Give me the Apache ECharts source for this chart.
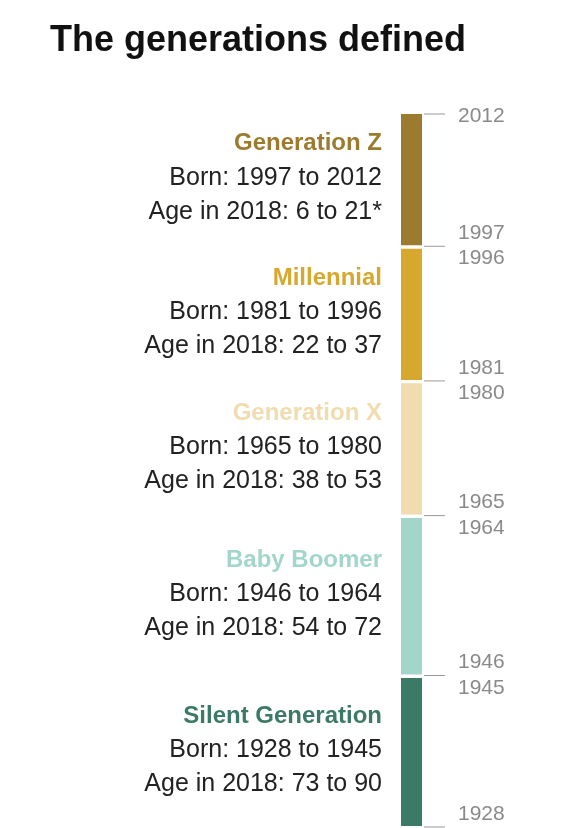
<!DOCTYPE html>
<html><head><meta charset="utf-8">
<script src="https://cdn.jsdelivr.net/npm/echarts@6/dist/echarts.min.js"></script>
<style>html,body{margin:0;padding:0;background:#fff}#c{width:588px;height:828px}</style>
</head><body><div id="c"></div>
<script>
const names = ['Generation Z','Millennial','Generation X','Baby Boomer','Silent Generation'];
const startYears = [1997,1981,1965,1946,1928];
const endYears = [2012,1996,1980,1964,1945];
const ages = ['6 to 21*','22 to 37','38 to 53','54 to 72','73 to 90'];
const colors = ['#9c7a2e','#d7a82e','#f0dcae','#a2d6ca','#3b7a66'];

const chart = echarts.init(document.getElementById('c'));
const data = names.map((n,i)=>[i,startYears[i],endYears[i]]);
chart.setOption({
  animation:false,
  title:{text:'The generations defined',left:45,top:18,textStyle:{fontFamily:'Liberation Sans',fontWeight:'bold',fontSize:36,color:'#111'}},
  grid:{left:401,width:21,top:114,bottom:2},
  xAxis:{type:'value',min:0,max:1,show:false},
  yAxis:{type:'value',min:1927.7,max:2012.3,show:false},
  series:[{
    type:'custom',
    data:data,
    renderItem:function(params,api){
      const i=api.value(0), s=api.value(1), e=api.value(2);
      const p1=api.coord([0,e+0.3]), p2=api.coord([1,s-0.3]);
      const top=p1[1], bot=p2[1], left=p1[0], right=p2[0];
      const cy=(top+bot)/2;
      const tx=382;
      const ch=[
        {type:'rect',shape:{x:left,y:top,width:right-left,height:bot-top},style:{fill:colors[i]}},
        {type:'line',shape:{x1:right+2,y1:bot+1,x2:right+23,y2:bot+1},style:{stroke:'#999',lineWidth:1}},
        {type:'text',x:458,y:i===0?top+2:top+10,style:{text:String(e),fill:'#8a8a8a',font:'21px Liberation Sans',verticalAlign:'middle'}},
        {type:'text',x:458,y:bot-12,style:{text:String(s),fill:'#8a8a8a',font:'21px Liberation Sans',verticalAlign:'middle'}},
        {type:'text',x:tx,y:cy-36,style:{text:names[i],fill:colors[i],font:'bold 24px Liberation Sans',align:'right',verticalAlign:'middle'}},
        {type:'text',x:tx,y:cy-2,style:{text:'Born: '+s+' to '+e,fill:'#222',font:'25px Liberation Sans',align:'right',verticalAlign:'middle'}},
        {type:'text',x:tx,y:cy+32,style:{text:'Age in 2018: '+ages[i],fill:'#222',font:'25px Liberation Sans',align:'right',verticalAlign:'middle'}}
      ];
      if(i===0) ch.push({type:'line',shape:{x1:right+2,y1:top,x2:right+23,y2:top},style:{stroke:'#999',lineWidth:1}});
      return {type:'group',children:ch};
    }
  }]
});
</script></body></html>
